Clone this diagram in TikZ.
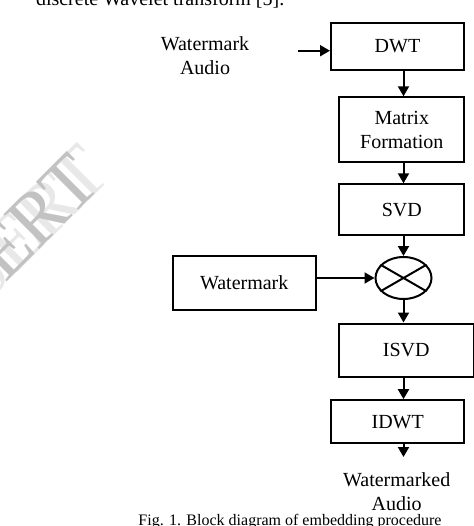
\documentclass[tikz,border=0pt]{standalone}
\usepackage{fontspec}
\setmainfont{Liberation Serif}
\usetikzlibrary{arrows.meta,shapes.geometric}
\begin{document}
\begin{tikzpicture}[>={Triangle[length=5pt,width=5.5pt]}, x=.5pt, y=-.5pt, line width=1pt,
  blk/.style={draw, inner sep=0pt, align=center, font=\fontsize{10}{12}\selectfont},
  lbl/.style={inner sep=0pt, align=center, font=\fontsize{10}{12}\selectfont},
  wmark/.style={anchor=base east, rotate=45, inner sep=0pt, font=\fontsize{38}{38}\selectfont}]
\useasboundingbox (0,0) rectangle (474,526);
\clip (0,0) rectangle (474,526);

% page background
\node[wmark, text=black!9] (ijert2) at (114,176) {IJERT};
\node[wmark, text=black!24] (ijert) at (104,185) {IJERT};
\node[anchor=base west, inner sep=0pt, font=\fontsize{10}{12}\selectfont] (prev) at (35,5) {discrete Wavelet transform [5].};

\node[lbl] (wa) at (205,55.5) {Watermark\\Audio};
\coordinate (win) at (298,50.7);
\node[blk, minimum width=66.5pt, minimum height=23.5pt] (dwt) at (397.5,46.5) {DWT};
\node[blk, minimum width=62.5pt, minimum height=32.5pt] (mat) at (401.8,129.8) {Matrix\\Formation};
\node[blk, minimum width=62.5pt, minimum height=25.5pt] (svd) at (401.8,209.8) {SVD};
\node[draw, ellipse, minimum width=28pt, minimum height=21pt, inner sep=0pt] (mix) at (403.5,278) {};
\node[blk, minimum width=71.5pt, minimum height=27pt] (wm) at (244.2,283) {Watermark};
\node[blk, minimum width=67.5pt, minimum height=26.5pt] (isvd) at (406.3,350) {ISVD};
\node[blk, minimum width=66.5pt, minimum height=21.5pt] (idwt) at (397.7,421.7) {IDWT};
\coordinate (out) at (403.5,457);
\node[lbl] (wda) at (396.7,491.5) {Watermarked\\Audio};

\draw (mix.30) -- (mix.210) (mix.150) -- (mix.330);

\draw[->] (win) -- (win -| dwt.west);
\draw[->] (dwt.south -| mix) -- (mat.north -| mix);
\draw[->] (mat.south -| mix) -- (svd.north -| mix);
\draw[->] (svd.south -| mix) -- (mix.north);
\draw[->] (wm.east |- mix) -- (mix.west);
\draw[->] (mix.south) -- (isvd.north -| mix);
\draw[->] (isvd.south -| mix) -- (idwt.north -| mix);
\draw[->] (idwt.south -| mix) -- (out);

\node[anchor=base, inner sep=0pt, font=\fontsize{8}{10}\selectfont] (cap) at (290,525.5) {Fig. 1. Block diagram of embedding procedure};
\end{tikzpicture}
\end{document}
